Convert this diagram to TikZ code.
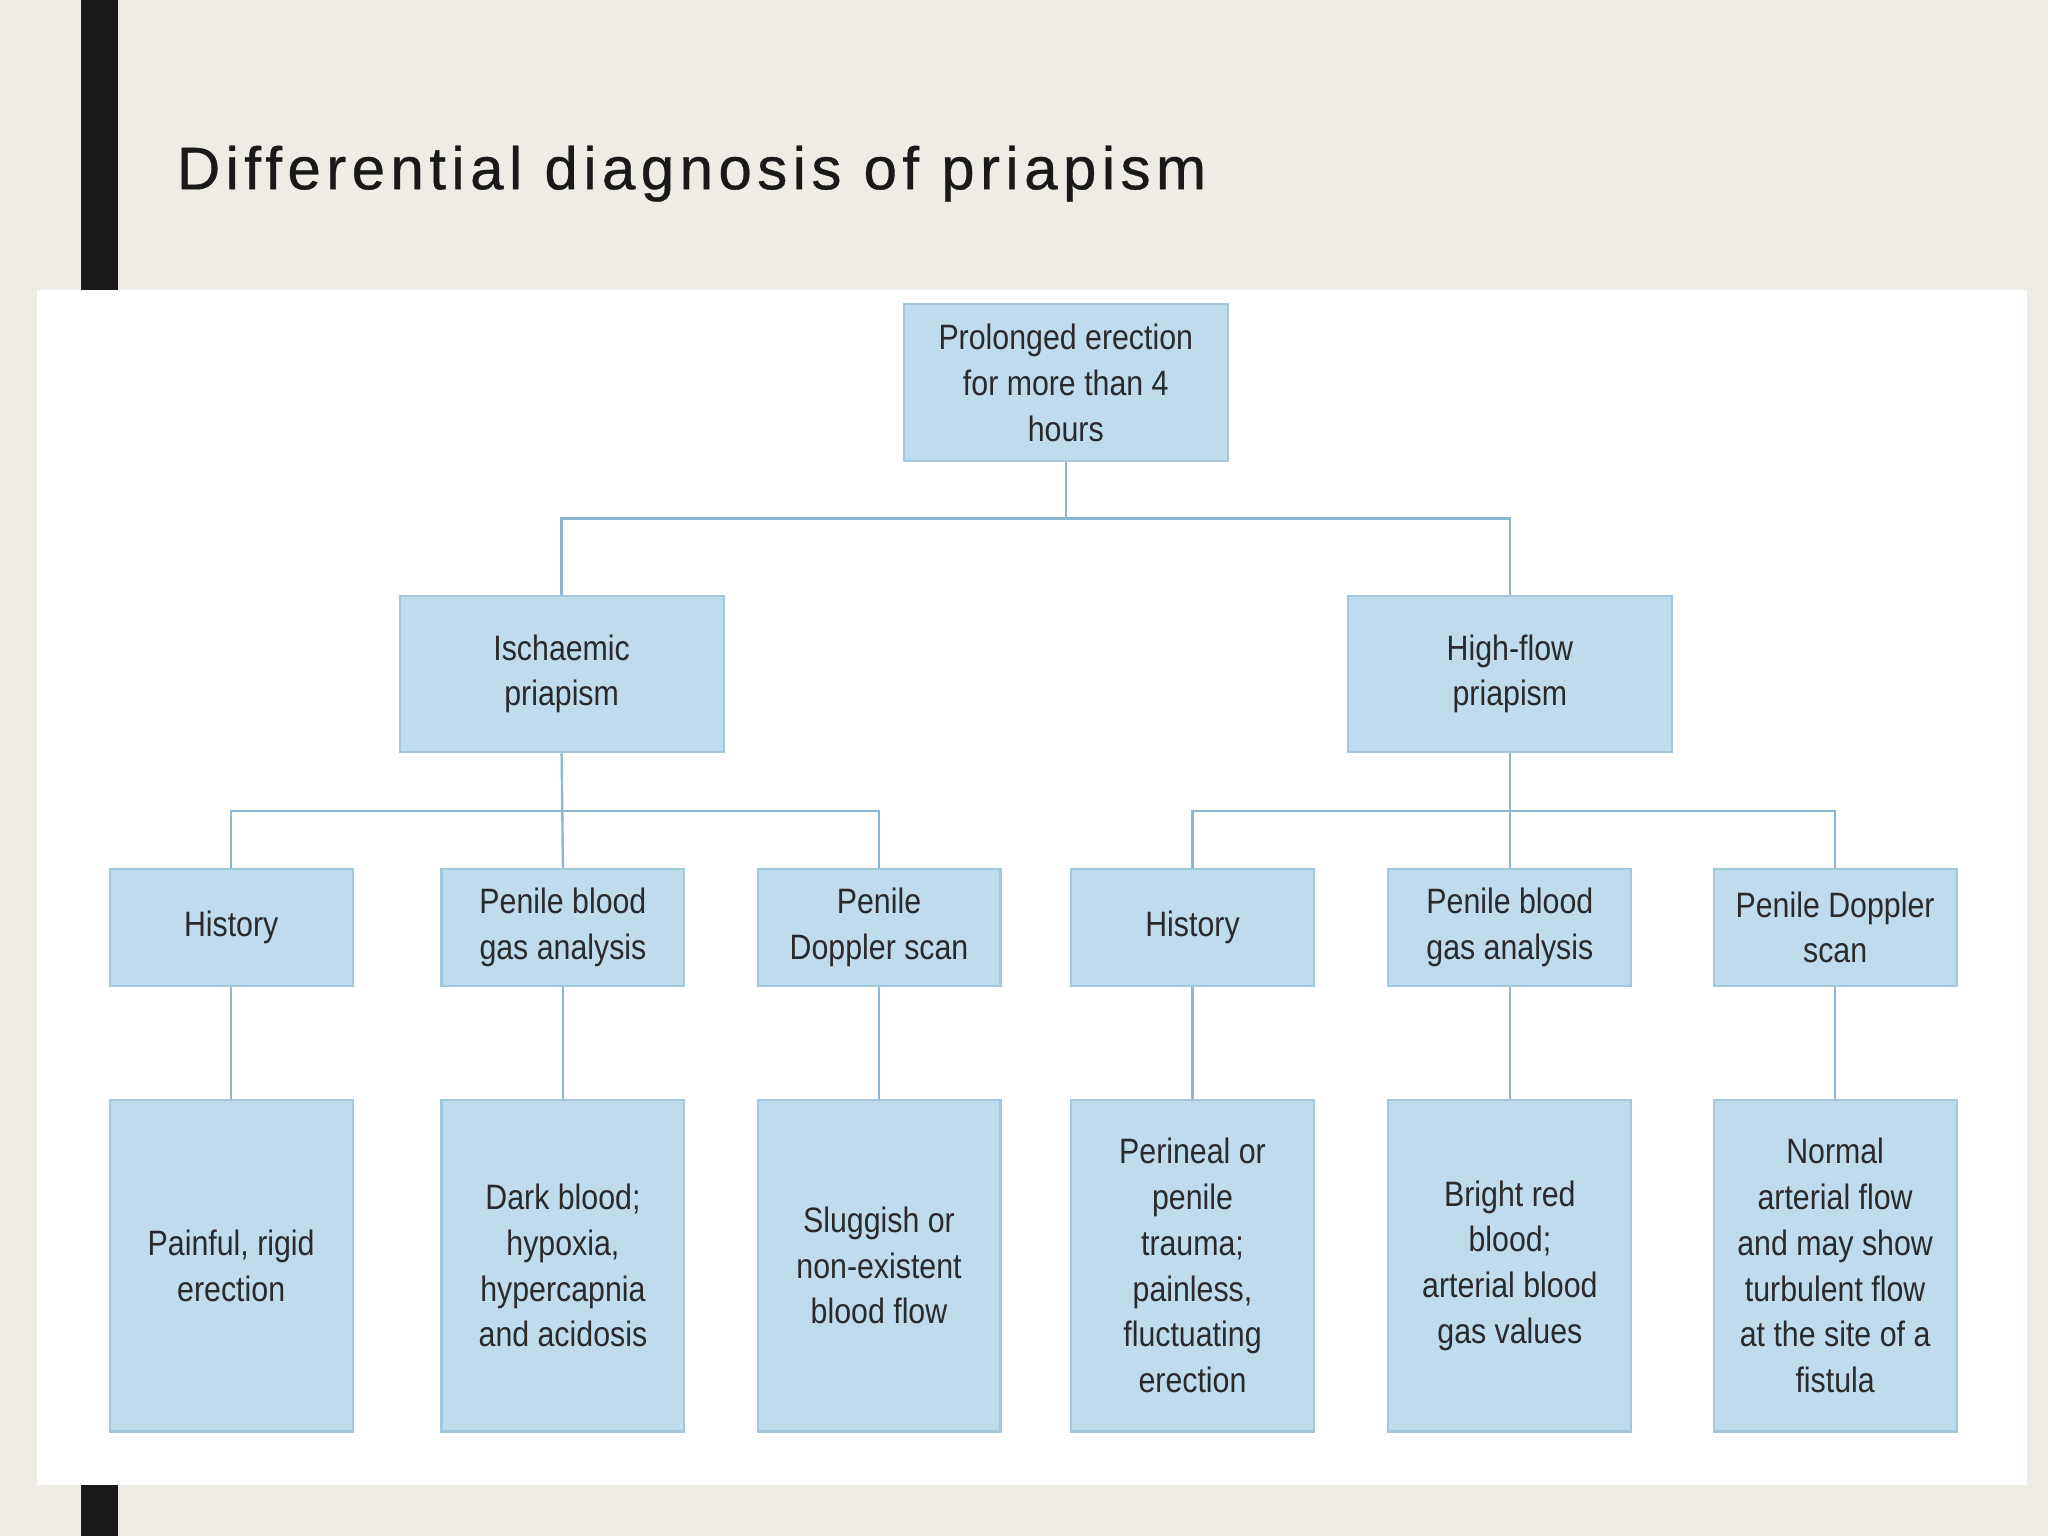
\documentclass[tikz,border=0pt]{standalone}
\usepackage{fontspec}
\setmainfont{Liberation Sans}[FakeStretch=0.86]
\newfontfamily\titlefont{Liberation Sans}[LetterSpace=9,FakeBold=0.6]
\definecolor{bg}{HTML}{EFECE6}
\definecolor{boxf}{HTML}{BFDCEC}
\definecolor{boxd}{HTML}{A3C8DE}
\definecolor{ln}{HTML}{8DB6D2}
\definecolor{txt}{HTML}{2A2A2A}
\begin{document}
\begin{tikzpicture}[x=0.5pt,y=-0.5pt,
  box/.style={draw=boxd,line width=0.8pt,fill=boxf,inner sep=0pt,align=center,
    font=\fontsize{13.5}{17.5}\selectfont,text=txt},
  sm/.style={box,minimum width=93pt,minimum height=45pt},
  bg4/.style={box,minimum width=93pt,minimum height=127pt},
  big/.style={box,minimum width=124pt,minimum height=60pt},
  conn/.style={draw=ln,line width=0.9pt}]
\fill[bg] (0,0) rectangle (1568,1176);
\fill[white] (28,222) rectangle (1552,1137);
\fill[black!90] (62,0) rectangle (90,222);
\fill[black!90] (62,1137) rectangle (90,1176);
\node[anchor=west,inner sep=0pt,font=\titlefont\fontsize{23}{27}\selectfont,text=black!90] (title) at (135,133) {Differential diagnosis of priapism};
\node[big] (top) at (816,293) {Prolonged erection\\for more than 4\\hours};
\node[big] (isc) at (430,516) {Ischaemic\\priapism};
\node[big] (hf) at (1156,516) {High-flow\\priapism};
\node[sm] (a1) at (177,710) {History};
\node[sm] (a2) at (431,710) {Penile blood\\gas analysis};
\node[sm] (a3) at (673,710) {Penile\\Doppler scan};
\node[sm] (a4) at (913,710) {History};
\node[sm] (a5) at (1156,710) {Penile blood\\gas analysis};
\node[sm] (a6) at (1405,710) {Penile Doppler\\scan};
\node[bg4] (b1) at (177,969) {Painful, rigid\\erection};
\node[bg4] (b2) at (431,969) {Dark blood;\\hypoxia,\\hypercapnia\\and acidosis};
\node[bg4] (b3) at (673,969) {Sluggish or\\non-existent\\blood flow};
\node[bg4] (b4) at (913,969) {Perineal or\\penile\\trauma;\\painless,\\fluctuating\\erection};
\node[bg4] (b5) at (1156,969) {Bright red\\blood;\\arterial blood\\gas values};
\node[bg4] (b6) at (1405,969) {Normal\\arterial flow\\and may show\\turbulent flow\\at the site of a\\fistula};
\coordinate (j0) at (816,397);
\coordinate (j1) at (430,621);
\coordinate (j2) at (1156,621);
\draw[conn] (top.south) -- (j0);
\draw[conn] (isc.north) |- (j0) -| (hf.north);
\draw[conn] (isc.south) -- (a2.north);
\draw[conn] (a1.north) |- (j1) -| (a3.north);
\draw[conn] (hf.south) -- (a5.north);
\draw[conn] (a4.north) |- (j2) -| (a6.north);
\foreach \i in {1,...,6}{\draw[conn] (a\i.south) -- (b\i.north);}
\end{tikzpicture}
\end{document}
